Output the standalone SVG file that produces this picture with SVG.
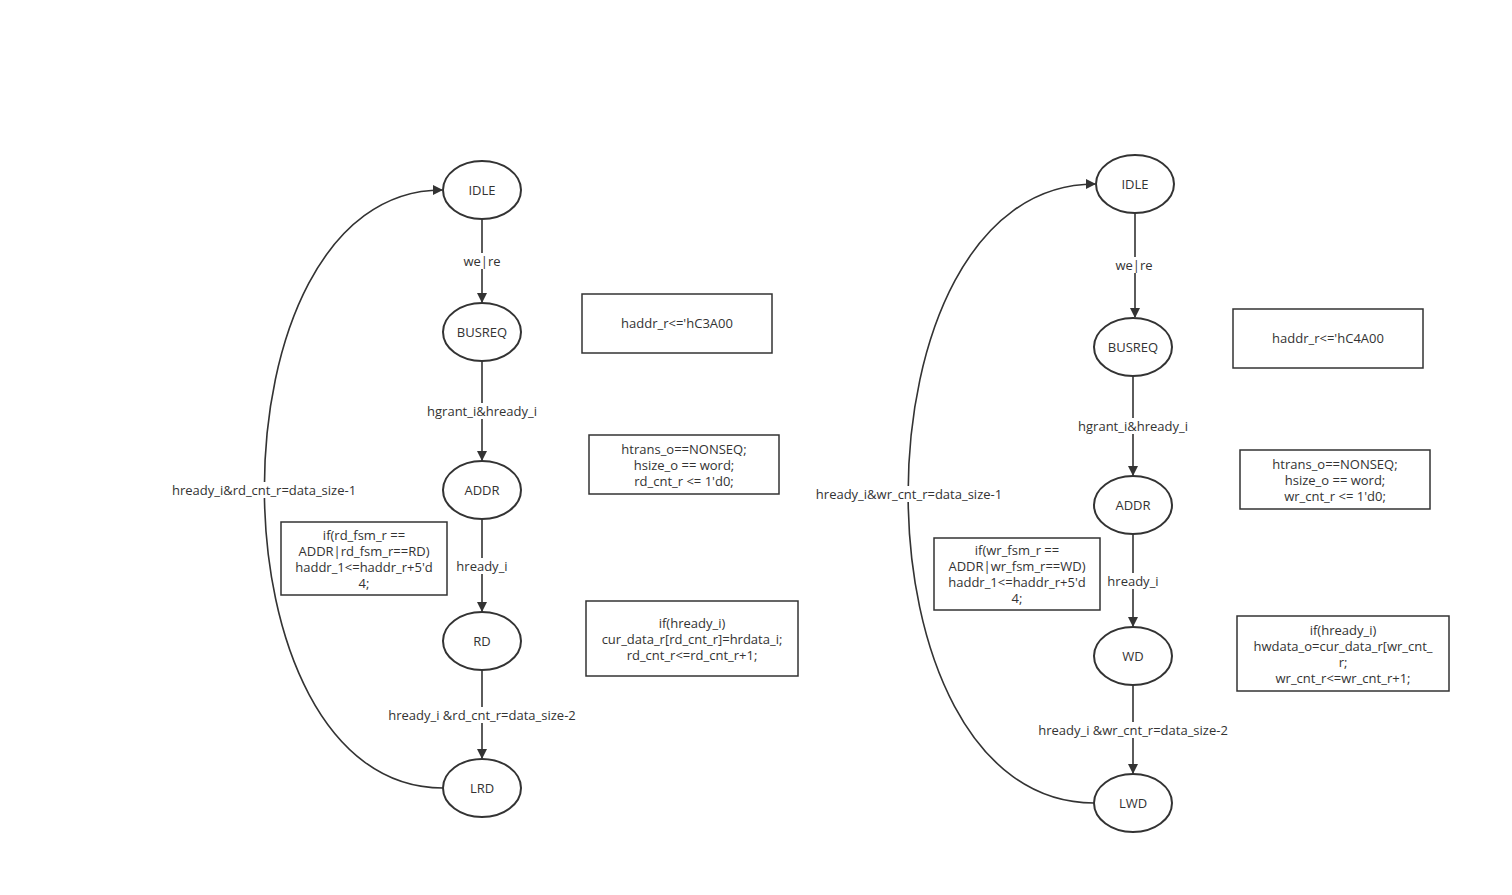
<svg xmlns="http://www.w3.org/2000/svg" width="1512" height="895" viewBox="0 0 1512 895">
<style>
.n{fill:#fff;stroke:#333;stroke-width:2}
.b{fill:#fff;stroke:#333;stroke-width:1.5}
.e{fill:none;stroke:#333;stroke-width:1.6}
text{font-family:"Open Sans","DejaVu Sans",sans-serif;font-size:13px;fill:#333;text-anchor:middle}
.lb{fill:#fff;stroke:none}
</style>
<defs><marker id="a" markerWidth="10" markerHeight="10" refX="9" refY="5" orient="auto" markerUnits="userSpaceOnUse"><path d="M0,0 L10,5 L0,10 Z" fill="#333"/></marker></defs>
<rect width="1512" height="895" fill="#fff"/>
<g id="connectors">
<path class="e" marker-end="url(#a)" d="M482,219 V302"/>
<path class="e" marker-end="url(#a)" d="M482,361 V460"/>
<path class="e" marker-end="url(#a)" d="M482,519 V611"/>
<path class="e" marker-end="url(#a)" d="M482,670 V758"/>
<path class="e" marker-end="url(#a)" d="M443,788 C205,788 205,190 442,190"/>
<path class="e" marker-end="url(#a)" d="M1135,213 V317"/>
<path class="e" marker-end="url(#a)" d="M1133,376 V475"/>
<path class="e" marker-end="url(#a)" d="M1133,534 V626"/>
<path class="e" marker-end="url(#a)" d="M1133,685 V773"/>
<path class="e" marker-end="url(#a)" d="M1094,803 C846,803 846,184 1095,184"/>
<rect class="lb" x="462" y="253" width="40" height="16"/><text x="482" y="266">we|re</text>
<rect class="lb" x="424" y="403" width="116" height="16"/><text x="482" y="416">hgrant_i&amp;hready_i</text>
<rect class="lb" x="455" y="558" width="54" height="16"/><text x="482" y="571">hready_i</text>
<rect class="lb" x="380" y="707" width="204" height="16"/><text x="482" y="720">hready_i &amp;rd_cnt_r=data_size-2</text>
<rect class="lb" x="165" y="482" width="197" height="16"/><text x="264" y="495">hready_i&amp;rd_cnt_r=data_size-1</text>
<rect class="lb" x="1115" y="257" width="40" height="16"/><text x="1134" y="270">we|re</text>
<rect class="lb" x="1075" y="418" width="116" height="16"/><text x="1133" y="431">hgrant_i&amp;hready_i</text>
<rect class="lb" x="1106" y="573" width="54" height="16"/><text x="1133" y="586">hready_i</text>
<rect class="lb" x="1031" y="722" width="204" height="16"/><text x="1133" y="735">hready_i &amp;wr_cnt_r=data_size-2</text>
<rect class="lb" x="809" y="486" width="200" height="16"/><text x="909" y="499">hready_i&amp;wr_cnt_r=data_size-1</text>
</g>
<g id="idle1"><ellipse class="n" cx="482" cy="190" rx="39" ry="29"/><text x="482" y="195">IDLE</text></g>
<g id="busreq1"><ellipse class="n" cx="482" cy="332" rx="39" ry="29"/><text x="482" y="337">BUSREQ</text></g>
<g id="addr1"><ellipse class="n" cx="482" cy="490" rx="39" ry="29"/><text x="482" y="495">ADDR</text></g>
<g id="rd"><ellipse class="n" cx="482" cy="641" rx="39" ry="29"/><text x="482" y="646">RD</text></g>
<g id="lrd"><ellipse class="n" cx="482" cy="788" rx="39" ry="29"/><text x="482" y="793">LRD</text></g>
<g id="idle2"><ellipse class="n" cx="1135" cy="184" rx="39" ry="29"/><text x="1135" y="189">IDLE</text></g>
<g id="busreq2"><ellipse class="n" cx="1133" cy="347" rx="39" ry="29"/><text x="1133" y="352">BUSREQ</text></g>
<g id="addr2"><ellipse class="n" cx="1133" cy="505" rx="39" ry="29"/><text x="1133" y="510">ADDR</text></g>
<g id="wd"><ellipse class="n" cx="1133" cy="656" rx="39" ry="29"/><text x="1133" y="661">WD</text></g>
<g id="lwd"><ellipse class="n" cx="1133" cy="803" rx="39" ry="29"/><text x="1133" y="808">LWD</text></g>
<g id="box1"><rect class="b" x="582" y="294" width="190" height="59"/><text x="677" y="328">haddr_r&lt;='hC3A00</text></g>
<g id="box2"><rect class="b" x="589" y="435" width="190" height="59"/><text x="684" y="454">htrans_o==NONSEQ;</text><text x="684" y="470">hsize_o == word;</text><text x="684" y="486">rd_cnt_r &lt;= 1'd0;</text></g>
<g id="box3"><rect class="b" x="281" y="522" width="166" height="73"/><text x="364" y="540">if(rd_fsm_r ==</text><text x="364" y="556">ADDR|rd_fsm_r==RD)</text><text x="364" y="572">haddr_1&lt;=haddr_r+5'd</text><text x="364" y="588">4;</text></g>
<g id="box4"><rect class="b" x="586" y="601" width="212" height="75"/><text x="692" y="628">if(hready_i)</text><text x="692" y="644">cur_data_r[rd_cnt_r]=hrdata_i;</text><text x="692" y="660">rd_cnt_r&lt;=rd_cnt_r+1;</text></g>
<g id="box5"><rect class="b" x="1233" y="309" width="190" height="59"/><text x="1328" y="343">haddr_r&lt;='hC4A00</text></g>
<g id="box6"><rect class="b" x="1240" y="450" width="190" height="59"/><text x="1335" y="469">htrans_o==NONSEQ;</text><text x="1335" y="485">hsize_o == word;</text><text x="1335" y="501">wr_cnt_r &lt;= 1'd0;</text></g>
<g id="box7"><rect class="b" x="934" y="538" width="166" height="72"/><text x="1017" y="555">if(wr_fsm_r ==</text><text x="1017" y="571">ADDR|wr_fsm_r==WD)</text><text x="1017" y="587">haddr_1&lt;=haddr_r+5'd</text><text x="1017" y="603">4;</text></g>
<g id="box8"><rect class="b" x="1237" y="616" width="212" height="75"/><text x="1343" y="635">if(hready_i)</text><text x="1343" y="651">hwdata_o=cur_data_r[wr_cnt_</text><text x="1343" y="667">r;</text><text x="1343" y="683">wr_cnt_r&lt;=wr_cnt_r+1;</text></g>
</svg>
